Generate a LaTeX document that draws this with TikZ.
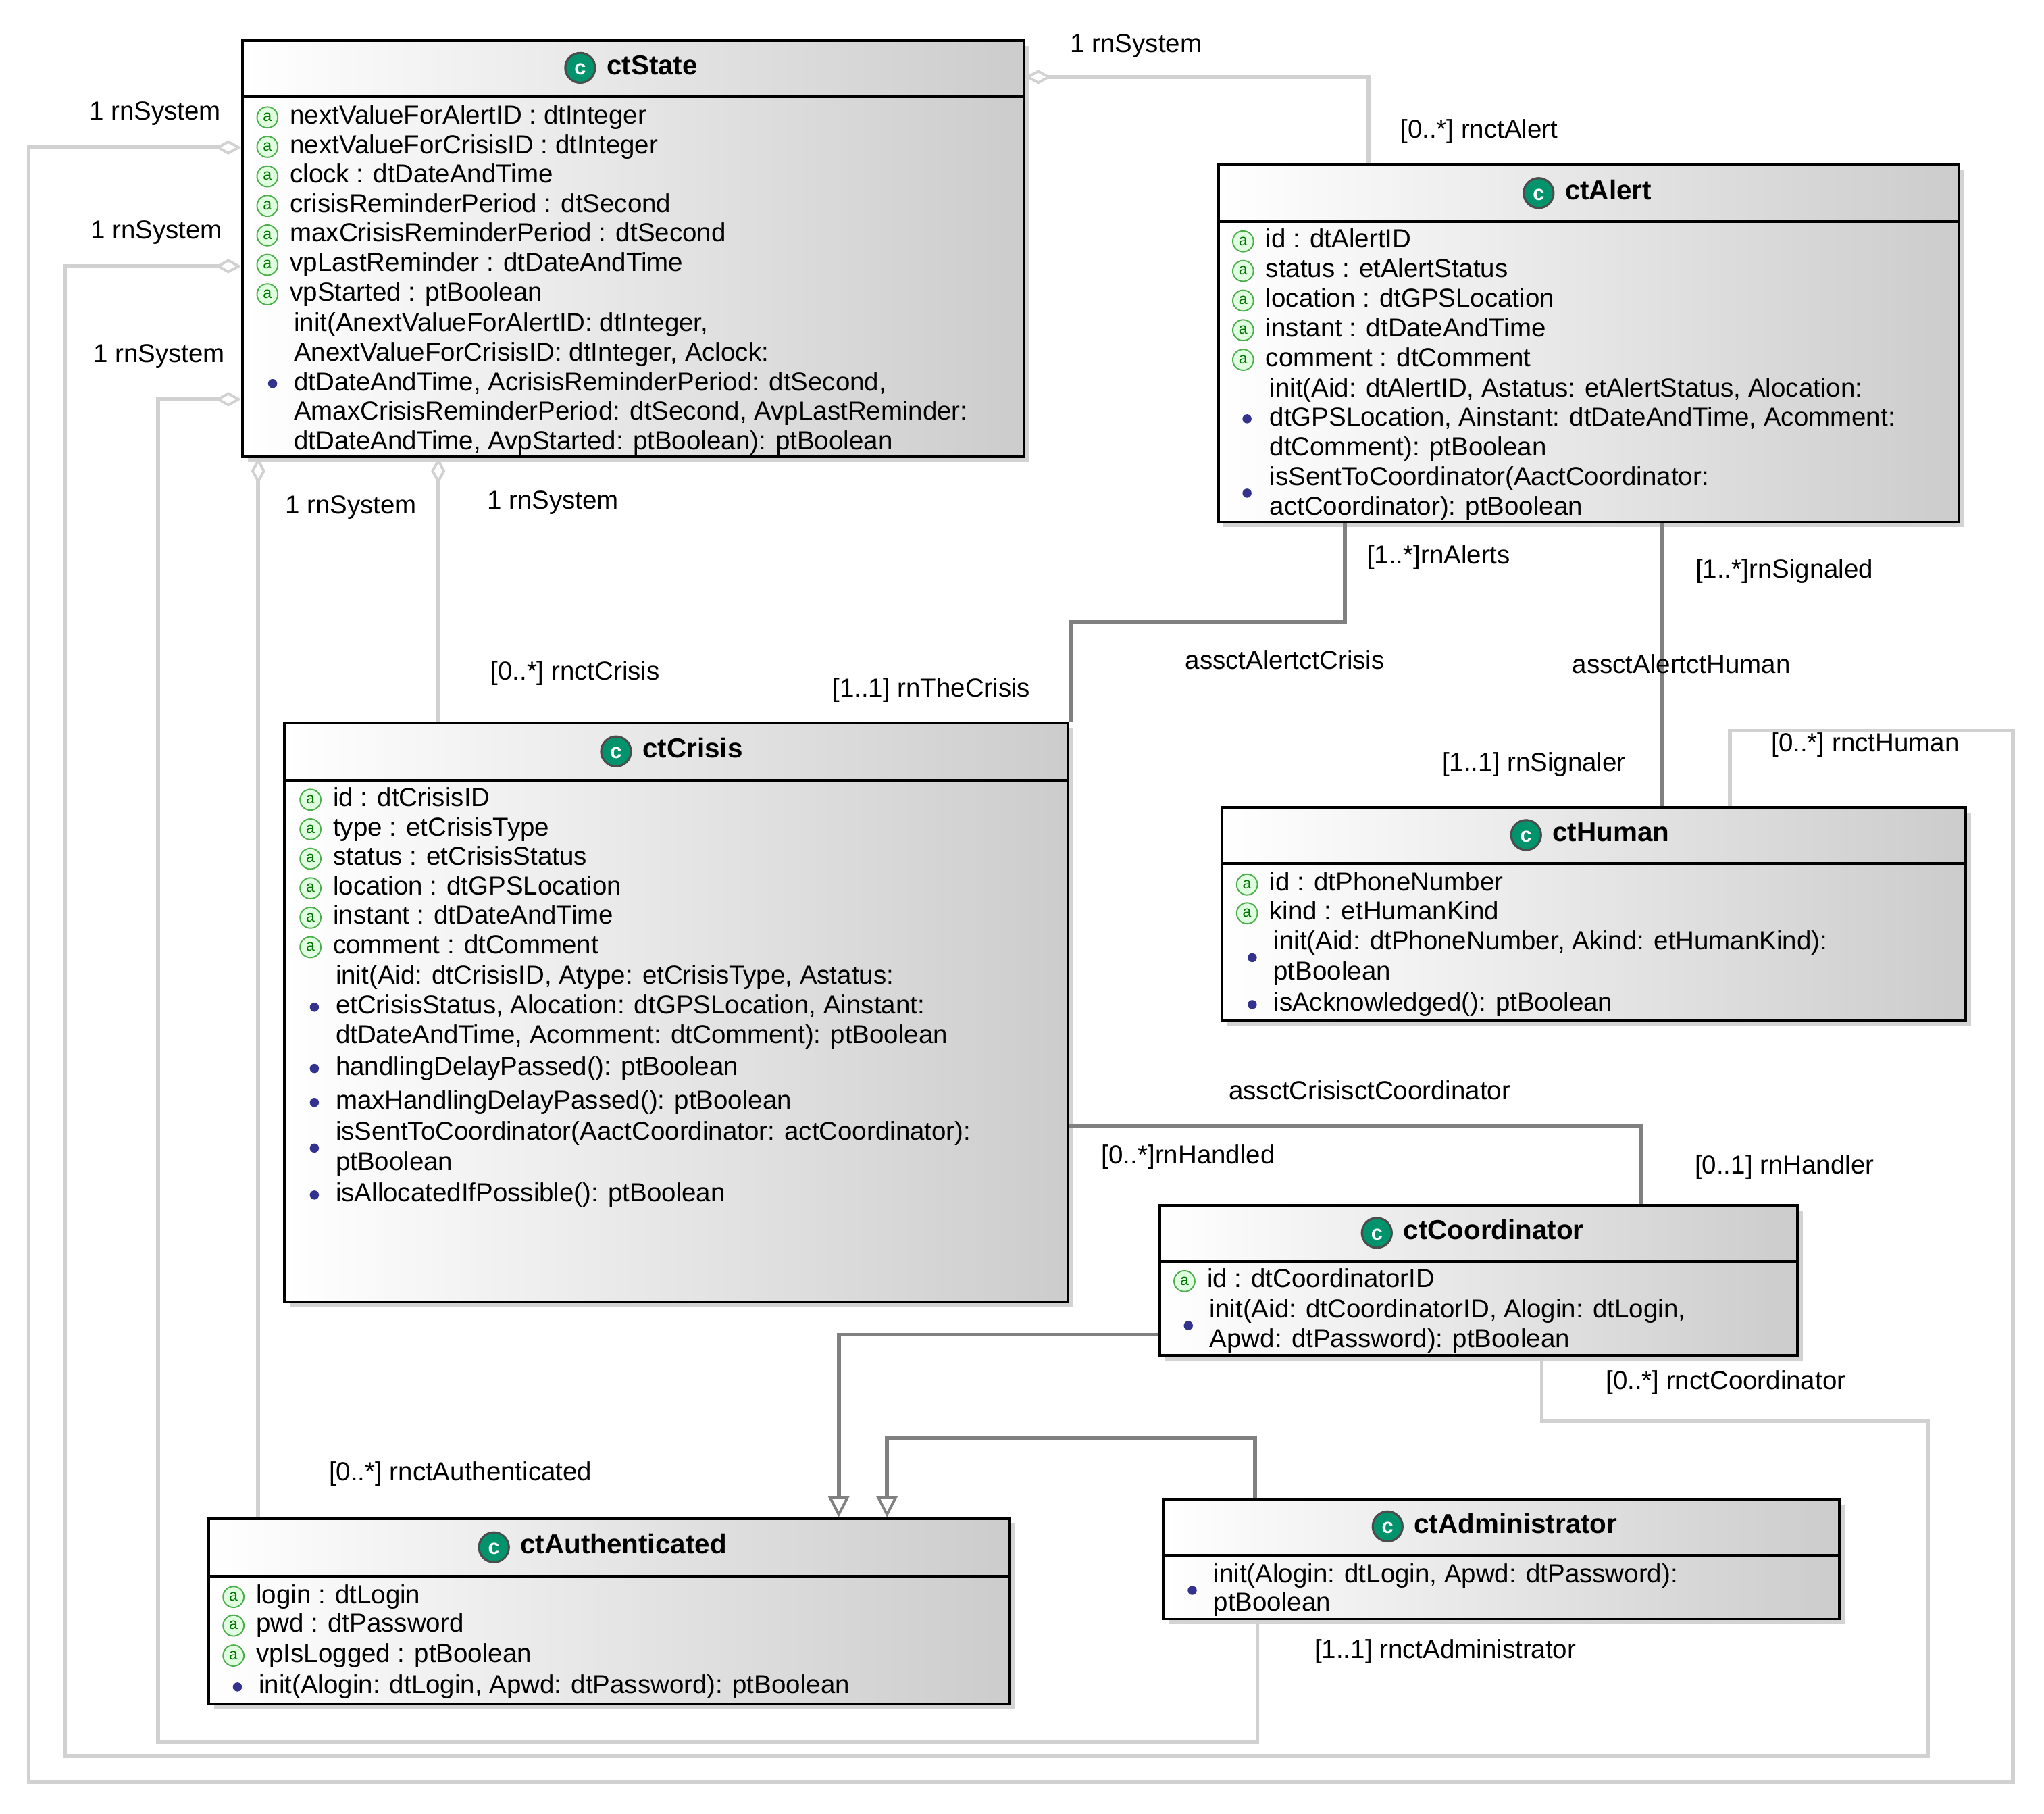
\documentclass[tikz,border=0pt]{standalone}
\usepackage{fontspec}
\setmainfont{Liberation Sans}
\usetikzlibrary{fit,shadows,arrows.meta}

\tikzset{
  cls/.style={draw=black,line width=1pt,inner sep=0pt,left color=white,right color=black!20,
    drop shadow={shadow xshift=2pt,shadow yshift=-2pt,opacity=.35}},
  txt/.style={anchor=west,inner sep=0pt,text height=7pt,text depth=2pt},
  lbl/.style={inner sep=0pt,text height=7pt,text depth=2pt},
  icona/.style={circle,draw=green!55!black!70,fill=green!12,line width=.5pt,minimum size=8pt,inner sep=0pt,
    font=\fontsize{6}{6}\selectfont\color{green!45!black},text height=3pt,text depth=0pt},
  iconc/.style={circle,draw=black!70,fill=teal!85!green,line width=.8pt,minimum size=11.5pt,inner sep=0pt,
    font=\fontsize{8}{8}\selectfont\bfseries\color{white},text height=5.5pt,text depth=0pt},
  dotm/.style={circle,fill=blue!45!black!80,inner sep=0pt,minimum size=3.5pt},
  sys/.style={draw=black!18,line width=1.5pt,{Diamond[open,length=10pt,width=5.5pt,line width=1pt]}-},
  asc/.style={draw=black!50,line width=1.5pt},
  isa/.style={draw=black!50,line width=1.5pt,-{Triangle[open,length=8pt,width=8pt,line width=1pt]}},
}
\newcommand\attrl[3]{\node[icona] at (#1,#2) {a}; \node[txt] at (#1+17,#2) {#3};}
\newcommand\methl[3]{\node[txt] at (#1+16,#2) {#3};}
\newcommand\mdot[2]{\node[dotm] at (#1,#2) {};}
\newcommand\ctitle[4]{\node[lbl,font=\fontsize{10.5}{12}\selectfont\bfseries] (#1-t) at (#2,#3) {#4}; \node[iconc] at ([xshift=-10pt]#1-t.west) {c};}
\newcommand\sepline[2]{\draw[line width=1pt] (#1.west |- 0,#2) -- (#1.east |- 0,#2);}

\begin{document}
\begin{tikzpicture}[x=0.5bp,y=-0.5bp,font=\fontsize{10}{11.3}\selectfont]
\useasboundingbox (0,0) rectangle (1567,1390);

% classes
\node[cls,fit={(186,31) (785,350)}] (state) {};
\node[cls,fit={(934,126) (1502,400)}] (alert) {};
\node[cls,fit={(218,554) (819,998)}] (crisis) {};
\node[cls,fit={(937,619) (1507,782)}] (human) {};
\node[cls,fit={(889,924) (1378,1039)}] (coord) {};
\node[cls,fit={(892,1149) (1410,1241)}] (admin) {};
\node[cls,fit={(160,1164) (774,1306)}] (auth) {};

\sepline{state}{74} \sepline{alert}{170} \sepline{crisis}{598} \sepline{human}{662}
\sepline{coord}{967} \sepline{admin}{1192} \sepline{auth}{1208}

\ctitle{state}{500}{52}{ctState}
\ctitle{alert}{1233}{148}{ctAlert}
\ctitle{crisis}{531}{576}{ctCrisis}
\ctitle{human}{1235}{640}{ctHuman}
\ctitle{coord}{1145}{945}{ctCoordinator}
\ctitle{admin}{1162}{1170}{ctAdministrator}
\ctitle{auth}{478}{1186}{ctAuthenticated}

% ctState
\foreach \t [count=\i from 0] in {nextValueForAlertID : dtInteger,nextValueForCrisisID : dtInteger,
  clock : dtDateAndTime,crisisReminderPeriod : dtSecond,maxCrisisReminderPeriod : dtSecond,
  vpLastReminder : dtDateAndTime,vpStarted : ptBoolean}
  {\attrl{205}{90+22.6*\i}{\t}}
\foreach \t [count=\i from 0] in {{init(AnextValueForAlertID: dtInteger,},{AnextValueForCrisisID: dtInteger, Aclock:},
  {dtDateAndTime, AcrisisReminderPeriod: dtSecond,},{AmaxCrisisReminderPeriod: dtSecond, AvpLastReminder:},
  {dtDateAndTime, AvpStarted: ptBoolean): ptBoolean}}
  {\methl{209}{249+22.7*\i}{\t}}
\mdot{209}{294}

% ctAlert
\foreach \t [count=\i from 0] in {id : dtAlertID,status : etAlertStatus,location : dtGPSLocation,
  instant : dtDateAndTime,comment : dtComment}
  {\attrl{953}{185+22.7*\i}{\t}}
\foreach \t [count=\i from 0] in {{init(Aid: dtAlertID, Astatus: etAlertStatus, Alocation:},
  {dtGPSLocation, Ainstant: dtDateAndTime, Acomment:},{dtComment): ptBoolean},
  {isSentToCoordinator(AactCoordinator:},{actCoordinator): ptBoolean}}
  {\methl{957}{299+22.7*\i}{\t}}
\mdot{956}{321} \mdot{956}{378}

% ctCrisis
\foreach \t [count=\i from 0] in {id : dtCrisisID,type : etCrisisType,status : etCrisisStatus,
  location : dtGPSLocation,instant : dtDateAndTime,comment : dtComment}
  {\attrl{238}{613+22.6*\i}{\t}}
\foreach \t/\y in {{init(Aid: dtCrisisID, Atype: etCrisisType, Astatus:}/749,
  {etCrisisStatus, Alocation: dtGPSLocation, Ainstant:}/772,
  {dtDateAndTime, Acomment: dtComment): ptBoolean}/795,
  {handlingDelayPassed(): ptBoolean}/819,{maxHandlingDelayPassed(): ptBoolean}/845,
  {isSentToCoordinator(AactCoordinator: actCoordinator):}/869,{ptBoolean}/892,
  {isAllocatedIfPossible(): ptBoolean}/916}
  {\methl{241}{\y}{\t}}
\foreach \y in {772,819,845,880,916} {\mdot{241}{\y}}

% ctHuman
\attrl{956}{678}{id : dtPhoneNumber}
\attrl{956}{700}{kind : etHumanKind}
\methl{960}{723}{init(Aid: dtPhoneNumber, Akind: etHumanKind):}
\methl{960}{746}{ptBoolean}
\methl{960}{770}{isAcknowledged(): ptBoolean}
\mdot{960}{734} \mdot{960}{770}

% ctCoordinator
\attrl{908}{982}{id : dtCoordinatorID}
\methl{911}{1005}{init(Aid: dtCoordinatorID, Alogin: dtLogin,}
\methl{911}{1028}{Apwd: dtPassword): ptBoolean}
\mdot{911}{1016}

% ctAdministrator
\methl{914}{1208}{init(Alogin: dtLogin, Apwd: dtPassword):}
\methl{914}{1230}{ptBoolean}
\mdot{914}{1219}

% ctAuthenticated
\attrl{179}{1224}{login : dtLogin}
\attrl{179}{1246}{pwd : dtPassword}
\attrl{179}{1269}{vpIsLogged : ptBoolean}
\methl{182}{1293}{init(Alogin: dtLogin, Apwd: dtPassword): ptBoolean}
\mdot{182}{1293}

% liens rnSystem
\draw[sys] (state.east |- 0,59) -- (1049,59) -- (alert.north -| 1049,0);
\draw[sys] (state.west |- 0,113) -- (22,113) -- (22,1366) -- (1543,1366) -- (1543,560) -- (1326,560) -- (human.north -| 1326,0);
\draw[sys] (state.west |- 0,204) -- (50,204) -- (50,1346) -- (1478,1346) -- (1478,1089) -- (1182,1089) -- (coord.south -| 1182,0);
\draw[sys] (state.west |- 0,306) -- (121,306) -- (121,1335) -- (964,1335) -- (admin.south -| 964,0);
\draw[sys] (state.south -| 198,0) -- (auth.north -| 198,0);
\draw[sys] (state.south -| 336,0) -- (crisis.north -| 336,0);

% associations
\draw[asc] (alert.south -| 1031,0) -- (1031,477) -- (821,477) -- (crisis.north -| 821,0);
\draw[asc] (alert.south -| 1274,0) -- (human.north -| 1274,0);
\draw[asc] (crisis.east |- 0,863) -- (1258,863) -- (coord.north -| 1258,0);
\draw[isa] (coord.west |- 0,1023) -- (643,1023) -- (auth.north -| 643,0);
\draw[isa] (admin.north -| 962,0) -- (962,1102) -- (680,1102) -- (auth.north -| 680,0);

% étiquettes
\foreach \x/\y/\t in {871/35/1 rnSystem,1134/101/{[0..*] rnctAlert},119/87/1 rnSystem,1430/571/{[0..*] rnctHuman},
  120/178/1 rnSystem,1323/1060/{[0..*] rnctCoordinator},122/273/1 rnSystem,1108/1266/{[1..1] rnctAdministrator},
  269/389/1 rnSystem,353/1130/{[0..*] rnctAuthenticated},424/385/1 rnSystem,441/516/{[0..*] rnctCrisis},
  1103/427/{[1..*]rnAlerts},714/529/{[1..1] rnTheCrisis},985/508/assctAlertctCrisis,
  1368/438/{[1..*]rnSignaled},1176/586/{[1..1] rnSignaler},1289/511/assctAlertctHuman,
  1050/838/assctCrisisctCoordinator,911/887/{[0..*]rnHandled},1368/895/{[0..1] rnHandler}}
  {\node[lbl] at (\x,\y) {\t};}

\end{tikzpicture}
\end{document}
